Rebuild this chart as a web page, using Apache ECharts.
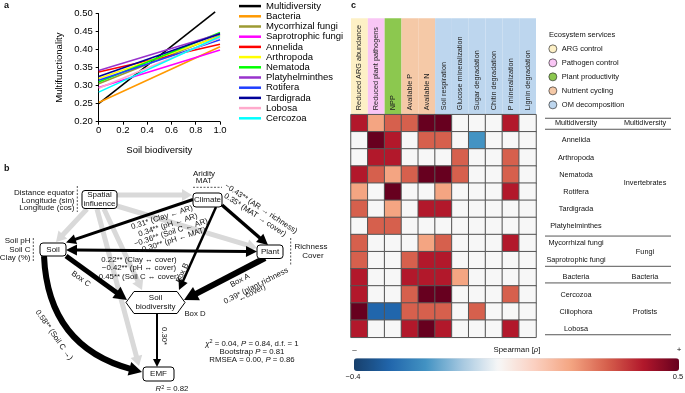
<!DOCTYPE html>
<html><head><meta charset="utf-8">
<script src="https://cdn.jsdelivr.net/npm/echarts/dist/echarts.min.js"></script>
<style>html,body{margin:0;padding:0;background:#fff}#c{width:685px;height:393px}</style>
</head><body><div id="c"></div>
<script>
// ---------- Panel a data ----------
const taxa = ['Multidiversity','Bacteria','Mycorrhizal fungi','Saprotrophic fungi','Annelida','Arthropoda','Nematoda','Platyhelminthes','Rotifera','Tardigrada','Lobosa','Cercozoa'];
const taxaColors = ['#000000','#ff9900','#9c9a33','#ff00ff','#ff0000','#ffff00','#00ff00','#9933cc','#1f3fff','#000099','#ffaacc','#00ffff'];
const biodivX = [0, 1];
const emfAtX0 = [0.250,0.253,0.305,0.295,0.338,0.320,0.310,0.342,0.315,0.325,0.293,0.282];
const emfAtX1 = [0.515,0.408,0.440,0.399,0.415,0.437,0.447,0.444,0.427,0.444,0.433,0.436];
const xTicks = [0, 0.2, 0.4, 0.6, 0.8, 1.0];
const yTicks = [0.20, 0.25, 0.30, 0.35, 0.40, 0.45, 0.50];

// ---------- Panel c data ----------
const serviceCols = ['Reduced ARG abundance','Reduced plant pathogens','NPP','Available P','Available N','Soil respiration','Glucose mineralization','Sugar degradation','Chitin degradation','P mineralization','Lignin degradation'];
const serviceGroups = ['ARG control','Pathogen control','Plant productivity','Nutrient cycling','OM decomposition'];
const serviceGroupOfCol = [0,1,2,3,3,4,4,4,4,4,4];
const serviceGroupColors = ['#fdf0c6','#f9c6f5','#8cc84f','#f5c9a7','#bdd6ee'];
const rowNames = ['Multidiversity','Annelida','Arthropoda','Nematoda','Rotifera','Tardigrada','Platyhelminthes','Mycorrhizal fungi','Saprotrophic fungi','Bacteria','Cercozoa','Ciliophora','Lobosa'];
const rowGroupNames = ['Multidiversity','Invertebrates','Fungi','Bacteria','Protists'];
const rowGroupSpans = [[0,0],[1,6],[7,8],[9,9],[10,12]];
const rhoMultidiversity  = [0.4,0.2,0.3,0.3,0.5,0.5,0,0,0,0.4,0];
const rhoAnnelida        = [0,0.5,0.4,0,0.3,0.3,0,-0.2,0,0,0];
const rhoArthropoda      = [0,0.4,0.4,0,0,0,0.3,0,0,0.3,0];
const rhoNematoda        = [0.4,0.3,0.2,0.3,0.5,0.5,0.3,0,0,0.3,0];
const rhoRotifera        = [0.2,0,0.5,0,0,0.2,0,0,0,0.4,0];
const rhoTardigrada      = [0.3,0,0.2,0,0.4,0.4,0,0,0,0,0];
const rhoPlatyhelminthes = [0,0.3,0.3,0,0,0,0,0,0,0,0];
const rhoMycorrhizal     = [0.3,0,0,0,0.2,0.3,0,0,0,0.4,0];
const rhoSaprotrophic    = [0.3,0,0,0.3,0.4,0.4,0,0,0,0,0];
const rhoBacteria        = [0.4,0,0,0.4,0.4,0.4,0.2,0,0,0,0];
const rhoCercozoa        = [0.4,0,0,0.3,0.5,0.5,0,0,0,0.3,0];
const rhoCiliophora      = [0.5,-0.3,-0.3,0.3,0.3,0.3,0,0.3,0,0,0];
const rhoLobosa          = [0.4,0,0,0.4,0.5,0.4,0,0,0,0.4,0];
const rhoRows = [rhoMultidiversity,rhoAnnelida,rhoArthropoda,rhoNematoda,rhoRotifera,rhoTardigrada,rhoPlatyhelminthes,rhoMycorrhizal,rhoSaprotrophic,rhoBacteria,rhoCercozoa,rhoCiliophora,rhoLobosa];
const rhoMin = -0.4, rhoMax = 0.5;

// ---------- layout ----------
const FONT = "'Liberation Sans', Arial, Helvetica, sans-serif";
const HM = {left:351, top:114.7, width:185, height:222.6};
const rowY = i => HM.top + HM.height/rowNames.length*(i+0.5);

function T(x,y,s,o){o=o||{};return {type:'text',x:x,y:y,rotation:o.rot||0,silent:true,z:50,
  style:{text:s,fill:o.color||'#111',fontSize:o.size||7.8,fontFamily:FONT,fontWeight:o.bold?'bold':'normal',
  fontStyle:o.italic?'italic':'normal',textAlign:o.align||'center',textVerticalAlign:o.valign||'middle',rich:o.rich}};}
function box(x,y,w,h){return {type:'rect',z:40,shape:{x:x,y:y,width:w,height:h,r:3},style:{fill:'#fff',stroke:'#000',lineWidth:1}};}
function dash(x1,y1,x2,y2){return {type:'line',z:40,shape:{x1:x1,y1:y1,x2:x2,y2:y2},style:{stroke:'#555',lineWidth:1,lineDash:[2,1.5]}};}
function head(x,y,ux,uy,hl,hw,c,z){const px=-uy,py=ux;
  return {type:'polygon',z:z,shape:{points:[[x,y],[x-ux*hl+px*hw,y-uy*hl+py*hw],[x-ux*hl-px*hw,y-uy*hl-py*hw]]},style:{fill:c}};}
function arrow(x1,y1,x2,y2,w,c,hl,hw,both,z){z=z||30;
  const dx=x2-x1,dy=y2-y1,L=Math.hypot(dx,dy),ux=dx/L,uy=dy/L;
  const els=[];
  const sx=both?x1+ux*hl*0.8:x1, sy=both?y1+uy*hl*0.8:y1;
  els.push({type:'line',z:z,shape:{x1:sx,y1:sy,x2:x2-ux*hl*0.8,y2:y2-uy*hl*0.8},style:{stroke:c,lineWidth:w}});
  els.push(head(x2,y2,ux,uy,hl,hw,c,z));
  if(both) els.push(head(x1,y1,-ux,-uy,hl,hw,c,z));
  return els;}
function curveArrow(x1,y1,cx,cy,x2,y2,w,c,hl,hw){
  const dx=x2-cx,dy=y2-cy,L=Math.hypot(dx,dy),ux=dx/L,uy=dy/L;
  return [{type:'bezierCurve',z:30,shape:{x1:x1,y1:y1,cpx1:cx,cpy1:cy,x2:x2-ux*hl*0.8,y2:y2-uy*hl*0.8},style:{stroke:c,lineWidth:w,fill:null}},
          head(x2,y2,ux,uy,hl,hw,c,30)];}

const GR='#d9d9d9', BK='#000';
let diag = [];
// grey arrows (spatial influence)
diag = diag.concat(arrow(117,195,192,195,5,GR,10,6,false,20));
diag = diag.concat(arrow(87,209,56,242,5,GR,10,6,false,20));
diag = diag.concat(arrow(117,206,257,248,5,GR,10,6,false,20));
diag = diag.concat(arrow(104,209,142,290,5,GR,10,6,false,20));
diag = diag.concat(arrow(97,209,139,366,5,GR,10,6,false,20));
// black arrows
diag = diag.concat(arrow(193,199.5,66,242.5,3,BK,10,5));
diag = diag.concat(arrow(222,205,268,245,3.5,BK,11,5.5));
diag = diag.concat(arrow(216,207,179,290,2.5,BK,10,5));
diag = diag.concat(arrow(66,250,257,251.5,3,BK,11,5.5,true));
diag = diag.concat(arrow(66,256,127,300,5,BK,13,7));
diag = diag.concat(arrow(265,258,184,300,6,BK,14,7.5));
diag = diag.concat(curveArrow(44,256,48,347,142,372,6,BK,13,7));
diag = diag.concat(arrow(157,313,157,367,2,BK,8,4));
// boxes
diag.push(box(82,190.5,35,18));
diag.push(box(193,193,29,14));
diag.push(box(40,243,26,13));
diag.push(box(257,245,26,13.5));
diag.push(box(143,367,31,14));
diag.push({type:'polygon',z:40,shape:{points:[[126,302.5],[134,291.5],[177,291.5],[185,302.5],[177,313.5],[134,313.5]]},style:{fill:'#fff',stroke:'#000',lineWidth:1}});
// dashed
diag.push(dash(77.3,186,77.3,212));
diag.push(dash(193,187.3,222,187.3));
diag.push(dash(33.3,238,33.3,262));
diag.push(dash(290.7,238,290.7,265));
// node texts
diag.push(T(99.5,195,'Spatial',{size:8}));
diag.push(T(99.5,203.5,'influence',{size:8}));
diag.push(T(207.5,200,'Climate',{size:8}));
diag.push(T(53,249.5,'Soil',{size:8}));
diag.push(T(270,251.5,'Plant',{size:8}));
diag.push(T(155.5,298,'Soil',{size:8}));
diag.push(T(155.5,307,'biodiversity',{size:8}));
diag.push(T(158.5,374,'EMF',{size:8}));
// side texts
diag.push(T(74.5,193,'Distance equator',{align:'right',size:8}));
diag.push(T(74.5,200.5,'Longitude (sin)',{align:'right',size:8}));
diag.push(T(74.5,208,'Longitude (cos)',{align:'right',size:8}));
diag.push(T(204,173.5,'Aridity',{size:8}));
diag.push(T(204,181,'MAT',{size:8}));
diag.push(T(30.5,241,'Soil pH',{align:'right',size:8}));
diag.push(T(30.5,249.3,'Soil C',{align:'right',size:8}));
diag.push(T(30.5,257.7,'Clay (%)',{align:'right',size:8}));
diag.push(T(311,247,'Richness',{size:8}));
diag.push(T(313,256,'Cover',{size:8}));
// path coefficients
const r1 = 0.31;
diag.push(T(162,217.5,'0.31* (Clay \u2190 AR)',{rot:r1}));
diag.push(T(168,225,'0.34** (pH \u2190 AR)',{rot:r1}));
diag.push(T(171,232.5,'\u22120.36** (Soil C \u2190 AR)',{rot:r1}));
diag.push(T(172,240.5,'\u22120.30** (pH \u2190 MAT)',{rot:r1}));
const r2 = -0.58;
diag.push(T(261,208.5,'\u22120.43** (AR \u2192 richness)',{rot:r2}));
diag.push(T(255,215,'0.35* (MAT \u2192 cover)',{rot:r2}));
diag.push(T(139,260,'0.22** (Clay \u2194 cover)'));
diag.push(T(139,268.3,'\u22120.42** (pH \u2194 cover)'));
diag.push(T(139,276.7,'0.45** (Soil C \u2194 cover)'));
diag.push(T(81,279,'Box C',{rot:-0.62}));
diag.push(T(182.5,273,'Box B',{rot:1.15}));
diag.push(T(240,280.5,'Box A',{rot:0.47}));
diag.push(T(256,286,'0.39* (plant richness',{rot:0.47}));
diag.push(T(252,293,'\u2194cover)',{rot:0.47}));
diag.push(T(195,313.5,'Box D'));
diag.push(T(54,335,'0.58** (Soil C \u2192)',{rot:-0.96}));
diag.push(T(164,336,'0.30*',{rot:-Math.PI/2}));
const rich = {i:{fontStyle:'italic',fontSize:7.8,fontFamily:FONT,fill:'#111'},s:{fontSize:5.5,fontFamily:FONT,fill:'#111',verticalAlign:'top',padding:[0,0,4,0]},n:{fontSize:7.8,fontFamily:FONT,fill:'#111'}};
diag.push(T(252,343.5,'{i|\u03c7}{s|2}{n| = 0.04, }{i|P}{n| = 0.84, d.f. = 1}',{rich:rich}));
diag.push(T(252,351.5,'{n|Bootstrap }{i|P}{n| = 0.81}',{rich:rich}));
diag.push(T(252,360,'{n|RMSEA = 0.00, }{i|P}{n| = 0.86}',{rich:rich}));
diag.push(T(172,389,'{i|R}{s|2}{n| = 0.82}',{rich:rich}));

// panel labels
const labels = [T(4,6,'a',{size:9,bold:true,align:'left'}),T(4,169,'b',{size:9,bold:true,align:'left'}),T(351,6,'c',{size:9,bold:true,align:'left'})];

// panel c legend title, table, colorbar texts
let tbl = [T(549,34.5,'Ecosystem services',{align:'left',size:7.5})];
rowNames.forEach((n,i)=>tbl.push(T(576,rowY(i),n,{size:7.3})));
rowGroupSpans.forEach((sp,g)=>tbl.push(T(645,(rowY(sp[0])+rowY(sp[1]))/2,rowGroupNames[g],{size:7.3})));
const hline = y => ({type:'line',z:40,shape:{x1:545,y1:y,x2:671,y2:y},style:{stroke:'#444',lineWidth:0.9}});
[rowY(0)-5,rowY(0)+6,(rowY(6)+rowY(7))/2+1.5,(rowY(8)+rowY(9))/2-2.5,(rowY(9)+rowY(10))/2-3,rowY(12)+6].forEach(y=>tbl.push(hline(y)));
tbl.push(T(354.5,350,'\u2013',{size:8}));
tbl.push(T(679,350,'+',{size:8}));
tbl.push(T(517,350,'{n|Spearman [}{i|\u03c1}{n|]}',{rich:rich}));
tbl.push(T(353,377,'\u22120.4',{size:7.5}));
tbl.push(T(678,377,'0.5',{size:7.5}));

// series
const lineSeries = taxa.map((n,k)=>({
  name:n,type:'line',xAxisIndex:0,yAxisIndex:0,showSymbol:false,symbol:'none',silent:true,clip:false,
  color:taxaColors[k],lineStyle:{width:1.6,color:taxaColors[k]},
  data:(k===0)?[[biodivX[0],emfAtX0[k]],[0.96,emfAtX0[k]+(emfAtX1[k]-emfAtX0[k])*0.96]]:[[biodivX[0],emfAtX0[k]],[biodivX[1],emfAtX1[k]]]
}));
const headerSeries = serviceGroups.map((g,gi)=>({
  name:g,type:'bar',xAxisIndex:1,yAxisIndex:1,stack:'hdr',barWidth:'100%',silent:true,z:1,
  color:serviceGroupColors[gi],itemStyle:{color:serviceGroupColors[gi]},
  data:serviceGroupOfCol.map(c=>c===gi?1:'-')
}));
const hmData = [];
rhoRows.forEach((r,ri)=>r.forEach((v,ci)=>hmData.push([ci,ri,v])));
const heatSeries = {type:'heatmap',xAxisIndex:2,yAxisIndex:2,data:hmData,silent:true,
  itemStyle:{borderColor:'#555',borderWidth:1},emphasis:{disabled:true}};

const option = {
  animation:false,
  textStyle:{fontFamily:FONT},
  grid:[
    {left:98.7,top:13.5,width:121.3,height:108.2},
    {left:HM.left,top:18.3,width:HM.width,height:HM.top-18.3},
    {left:HM.left,top:HM.top,width:HM.width,height:HM.height}
  ],
  xAxis:[
    {type:'value',gridIndex:0,min:xTicks[0],max:xTicks[xTicks.length-1],interval:0.2,
     name:'Soil biodiversity',nameLocation:'middle',nameGap:24,nameTextStyle:{fontSize:9.5,color:'#000'},
     axisLine:{lineStyle:{color:'#000',width:1}},axisTick:{length:3,lineStyle:{color:'#000'}},splitLine:{show:false},
     axisLabel:{fontSize:9.5,color:'#000',margin:4,formatter:v=>v===0?'0':v.toFixed(1)}},
    {type:'category',gridIndex:1,data:serviceCols,position:'bottom',z:10,axisLine:{show:false},axisTick:{show:false},
     axisLabel:{inside:true,rotate:90,fontSize:7.3,color:'#222',margin:4.5,interval:0}},
    {type:'category',gridIndex:2,data:serviceCols,show:false}
  ],
  yAxis:[
    {type:'value',gridIndex:0,min:yTicks[0],max:yTicks[yTicks.length-1],interval:0.05,
     name:'Multifunctionality',nameLocation:'middle',nameGap:34,nameTextStyle:{fontSize:9.5,color:'#000'},
     axisLine:{show:true,lineStyle:{color:'#000',width:1}},axisTick:{show:true,length:3,lineStyle:{color:'#000'}},splitLine:{show:false},
     axisLabel:{fontSize:9.5,color:'#000',margin:6,formatter:v=>v.toFixed(2)}},
    {type:'value',gridIndex:1,min:0,max:1,show:false},
    {type:'category',gridIndex:2,data:rowNames,inverse:true,show:false}
  ],
  legend:[
    {data:taxa,orient:'vertical',left:239,top:1,padding:0,itemWidth:22,itemHeight:2.5,itemGap:0,icon:'rect',selectedMode:false,
     textStyle:{fontSize:9.5,color:'#000',lineHeight:10.2}},
    {data:serviceGroups,orient:'vertical',left:548.5,top:44.5,padding:0,itemWidth:8,itemHeight:8,itemGap:5.3,icon:'circle',selectedMode:false,
     itemStyle:{borderColor:'#333',borderWidth:0.7},textStyle:{fontSize:7.5,color:'#111',lineHeight:8}}
  ],
  visualMap:[{type:'continuous',seriesIndex:lineSeries.length+headerSeries.length,min:rhoMin,max:rhoMax,orient:'horizontal',
    left:354,top:358.3,itemWidth:12.7,itemHeight:325,padding:0,calculable:false,hoverLink:false,
    inRange:{color:['#173f6b','#2166ac','#4393c3','#a6c8e0','#f7f7f7','#fbd0c0','#f4a582','#d6604d','#b2182b','#67001f']}}],
  series:[].concat(lineSeries,headerSeries,[heatSeries]),
  graphic:{elements:[].concat(diag,labels,tbl)}
};
const chart = echarts.init(document.getElementById('c'),null,{renderer:'canvas'});
chart.setOption(option);
</script></body></html>
